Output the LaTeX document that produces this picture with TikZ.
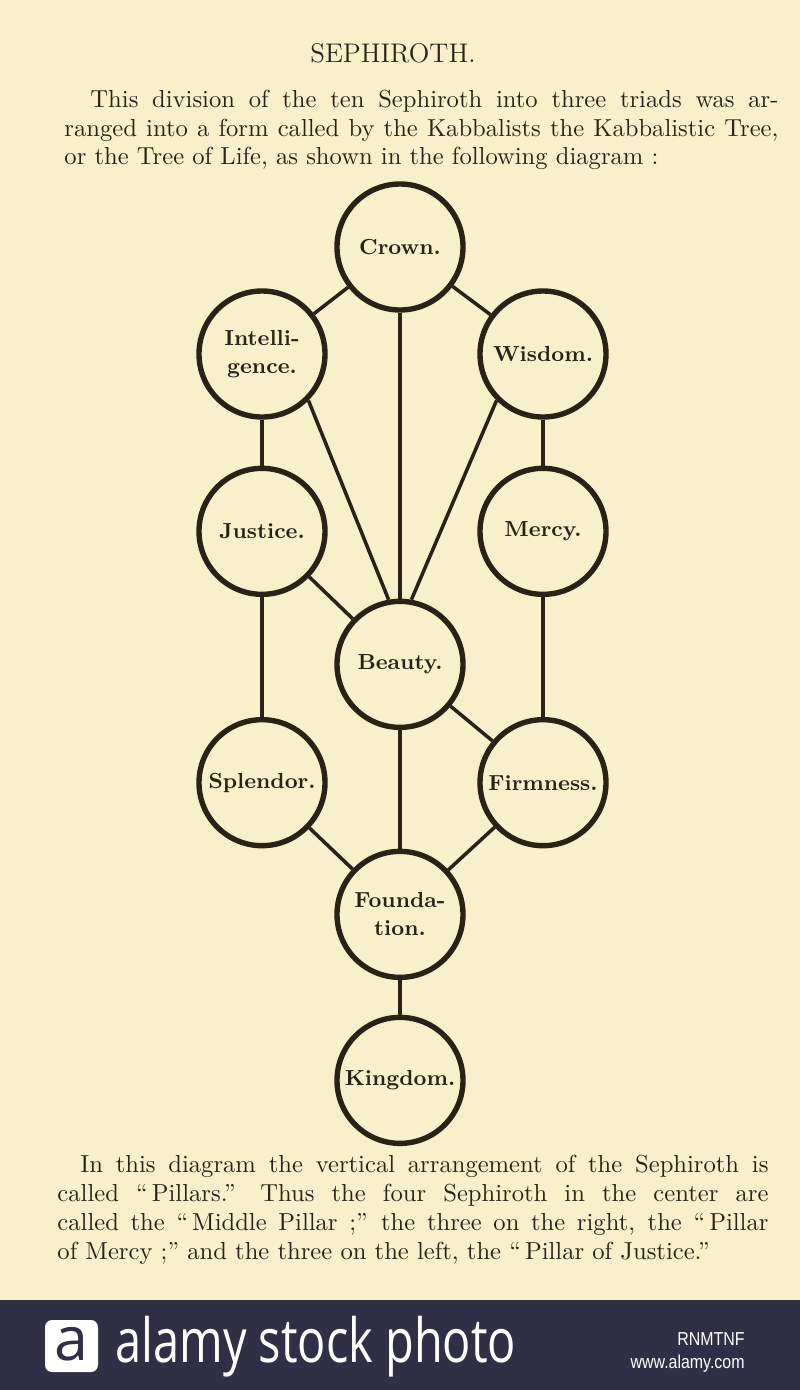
\documentclass[tikz,border=0pt]{standalone}
\usepackage{fontspec}
\usepackage{graphicx}
\usetikzlibrary{positioning}

\newfontfamily\brandfont{Open Sans}
\newfontfamily\narrowfont{Liberation Sans}

\definecolor{paper}{HTML}{F8EFCB}
\definecolor{ink}{HTML}{2B2217}
\definecolor{barblue}{HTML}{2F3045}

\newcommand{\gothlabel}{\fontsize{9.3}{12}\selectfont\bfseries}
\newcommand{\bodytext}{\fontsize{10.5}{12}\selectfont}

\tikzset{
  sephira/.style={draw=ink, circle, line width=2.3pt, minimum size=1.89cm,
    inner sep=0pt, align=center, font=\gothlabel, text=ink},
  channel/.style={draw=ink, line width=1.5pt},
  textline/.style={anchor=base west, inner sep=0pt, text=ink, font=\bodytext}
}

\begin{document}
\begin{tikzpicture}[x=0.015cm, y=-0.015cm]
\fill[paper] (0,0) rectangle (800,1300);
\fill[barblue] (0,1300) rectangle (800,1390);
\useasboundingbox (0,0) rectangle (800,1390);

% heading and opening text
\node[anchor=base, inner sep=0pt, text=ink, font=\fontsize{11.5}{13}\selectfont] (title) at (393,62) {SEPHIROTH.};
\node[textline] (intro1) at (90,107) {\makebox[10.32cm][s]{This division of the ten Sephiroth into three triads was ar-}};
\node[textline] (intro2) at (64,136) {\makebox[10.71cm][s]{ranged into a form called by the Kabbalists the Kabbalistic Tree,}};
\node[textline] (intro3) at (64,164) {or the Tree of Life, as shown in the following diagram :};

% the tree
\node[sephira] (crown) at (400,247) {Crown.};
\node[sephira] (intelligence) at (262,354) {Intelli-\\gence.};
\node[sephira] (wisdom) at (543,354) {Wisdom.};
\node[sephira, below of=intelligence, node distance=2.66cm] (justice) {Justice.};
\node[sephira, below of=wisdom, node distance=2.66cm] (mercy) {Mercy.};
\node[sephira, below of=crown, node distance=6.26cm] (beauty) {Beauty.};
\node[sephira, below of=justice, node distance=3.77cm] (splendor) {Splendor.};
\node[sephira, below of=mercy, node distance=3.77cm] (firmness) {Firmness.};
\node[sephira, below of=beauty, node distance=3.75cm] (foundation) {Founda-\\tion.};
\node[sephira, below of=foundation, node distance=2.49cm] (kingdom) {Kingdom.};

\draw[channel] (crown) -- (intelligence);
\draw[channel] (crown) -- (wisdom);
\draw[channel] (crown) -- (beauty);
\draw[channel] (intelligence.-45) -- (beauty.100);
\draw[channel] (wisdom.-135) -- (beauty.80);
\draw[channel] (intelligence) -- (justice);
\draw[channel] (wisdom) -- (mercy);
\draw[channel] (justice) -- (beauty);
\draw[channel] (beauty) -- (firmness);
\draw[channel] (justice) -- (splendor);
\draw[channel] (mercy) -- (firmness);
\draw[channel] (beauty) -- (foundation);
\draw[channel] (splendor) -- (foundation);
\draw[channel] (firmness) -- (foundation);
\draw[channel] (foundation) -- (kingdom);

% closing text
\node[textline] (note1) at (80,1172) {\makebox[10.32cm][s]{In this diagram the vertical arrangement of the Sephiroth is}};
\node[textline] (note2) at (57,1201) {\makebox[10.665cm][s]{called ``\,Pillars.''\quad Thus the four Sephiroth in the center are}};
\node[textline] (note3) at (57,1230) {\makebox[10.665cm][s]{called the ``\,Middle Pillar ;'' the three on the right, the ``\,Pillar}};
\node[textline] (note4) at (57,1259) {of Mercy ;'' and the three on the left, the ``\,Pillar of Justice.''};

% stock bar
\fill[white, rounded corners=3pt] (45,1320) rectangle (98,1372);
\node[text=barblue, font=\brandfont\fontsize{26}{30}\selectfont, inner sep=0pt] (logo) at (71.5,1344) {a};
\node[anchor=base west, inner sep=0pt, text=white, font=\brandfont\fontsize{26}{30}\selectfont] (brand) at (115,1362) {\scalebox{0.77}[1]{alamy stock photo}};
\node[anchor=base east, inner sep=0pt, text=white, font=\narrowfont\fontsize{8}{9}\selectfont] (code) at (745,1345) {\scalebox{0.85}[1]{RNMTNF}};
\node[anchor=base east, inner sep=0pt, text=white, font=\narrowfont\fontsize{8}{9}\selectfont] (site) at (745,1368) {\scalebox{0.85}[1]{www.alamy.com}};
\end{tikzpicture}
\end{document}
